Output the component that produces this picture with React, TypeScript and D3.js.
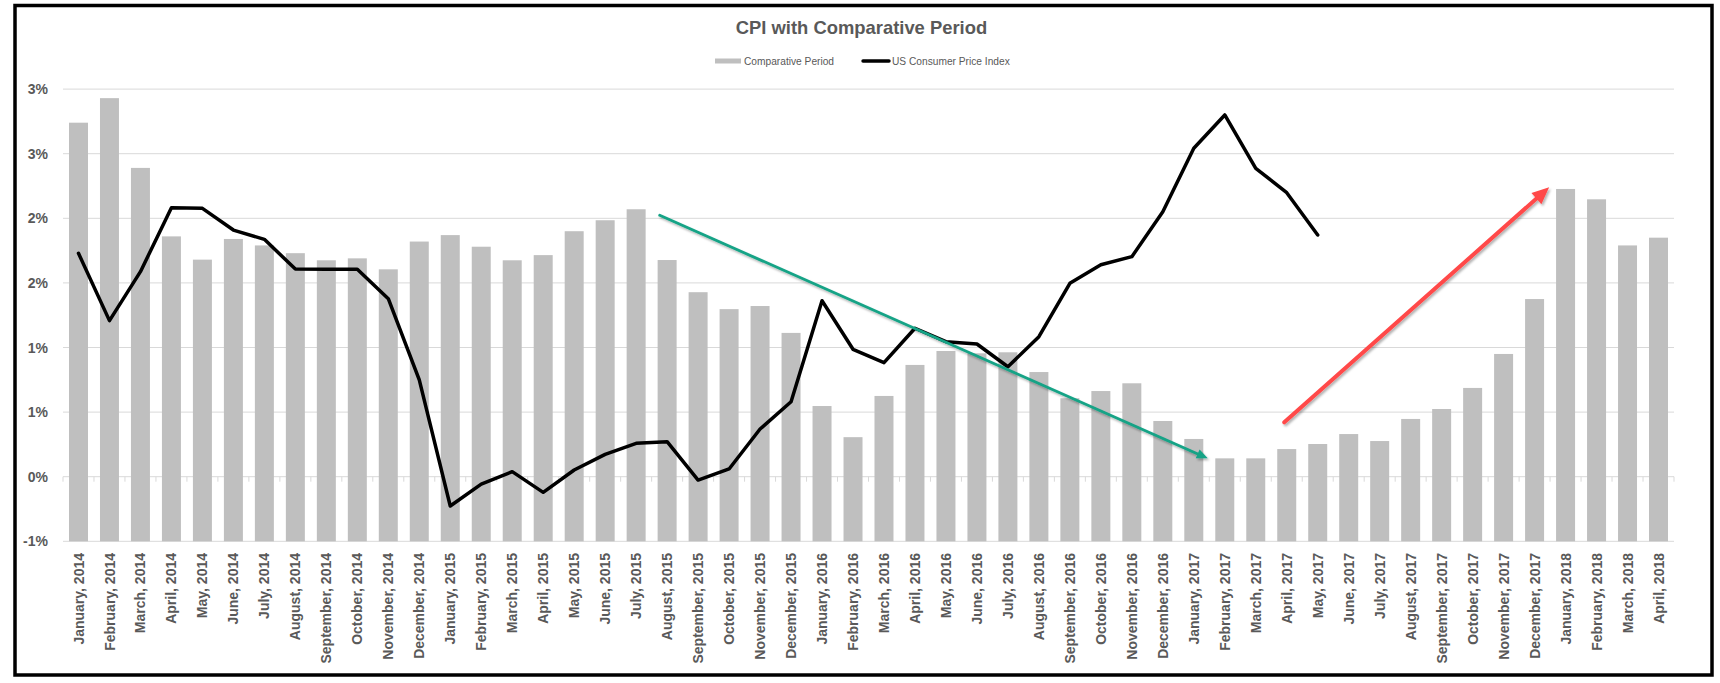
import React, { useEffect, useRef } from 'react';
import * as d3 from 'd3';

const categories = [
  'January, 2014', 'February, 2014', 'March, 2014', 'April, 2014', 'May, 2014', 'June, 2014',
  'July, 2014', 'August, 2014', 'September, 2014', 'October, 2014', 'November, 2014', 'December, 2014',
  'January, 2015', 'February, 2015', 'March, 2015', 'April, 2015', 'May, 2015', 'June, 2015',
  'July, 2015', 'August, 2015', 'September, 2015', 'October, 2015', 'November, 2015', 'December, 2015',
  'January, 2016', 'February, 2016', 'March, 2016', 'April, 2016', 'May, 2016', 'June, 2016',
  'July, 2016', 'August, 2016', 'September, 2016', 'October, 2016', 'November, 2016', 'December, 2016',
  'January, 2017', 'February, 2017', 'March, 2017', 'April, 2017', 'May, 2017', 'June, 2017',
  'July, 2017', 'August, 2017', 'September, 2017', 'October, 2017', 'November, 2017', 'December, 2017',
  'January, 2018', 'February, 2018', 'March, 2018', 'April, 2018',
];

// values in percent
const comparativePeriod = [
  2.74, 2.93, 2.39, 1.86, 1.68, 1.84, 1.79, 1.73, 1.675, 1.69, 1.605, 1.82,
  1.87, 1.78, 1.675, 1.715, 1.9, 1.985, 2.07, 1.677, 1.428, 1.297, 1.321, 1.113,
  0.547, 0.306, 0.625, 0.865, 0.973, 0.955, 0.963, 0.81, 0.607, 0.663, 0.723, 0.431,
  0.292, 0.142, 0.142, 0.214, 0.253, 0.33, 0.276, 0.447, 0.524, 0.687, 0.95, 1.375,
  2.227, 2.147, 1.79, 1.85,
];

const usCpi: (number | null)[] = [
  1.729, 1.208, 1.587, 2.082, 2.077, 1.909, 1.837, 1.607, 1.605, 1.605, 1.378, 0.749,
  -0.227, -0.057, 0.039, -0.121, 0.052, 0.173, 0.258, 0.271, -0.026, 0.06, 0.369, 0.58,
  1.362, 0.986, 0.883, 1.149, 1.045, 1.027, 0.851, 1.084, 1.497, 1.64, 1.703, 2.051,
  2.542, 2.8, 2.387, 2.198, 1.871, null, null, null, null, null, null, null,
  null, null, null, null,
];

const yTicks = [-0.5, 0, 0.5, 1, 1.5, 2, 2.5, 3];
const yTickLabels = ['-1%', '0%', '1%', '1%', '2%', '2%', '3%', '3%'];

// hand-drawn trend arrows, in [category position, value %]
const trendArrows = [
  { from: [18.76, 2.023], to: [36.45, 0.142], color: '#14a386', width: 2.8, headLen: 11, headHalf: 4.8 },
  { from: [38.92, 0.421], to: [47.47, 2.24], color: '#ff4848', width: 4, headLen: 17, headHalf: 7.5 },
];

const WIDTH = 1720;
const HEIGHT = 683;
const FONT = "'Liberation Sans', Arial, sans-serif";
const TEXT_GREY = '#595959';

const App: React.FC = () => {
  const svgRef = useRef<SVGSVGElement | null>(null);

  useEffect(() => {
    document.body.style.margin = '0';
    if (!svgRef.current) return;
    const svg = d3.select(svgRef.current);
    svg.selectAll('*').remove();

    const plot = { left: 63, right: 1674, top: 89.1, bottom: 541.3 };

    const x = d3
      .scaleBand<string>()
      .domain(categories)
      .range([plot.left, plot.right])
      .paddingInner(0.387)
      .paddingOuter(0.1935);

    const y = d3.scaleLinear().domain([-0.5, 3]).range([plot.bottom, plot.top]);

    const center = (i: number) => x(categories[i])! + x.bandwidth() / 2;
    const pos = d3
      .scaleLinear()
      .domain([0, categories.length - 1])
      .range([center(0), center(categories.length - 1)]);

    const defs = svg.append('defs');
    const shadow = defs.append('filter').attr('id', 'shadow').attr('x', '-10%').attr('y', '-10%').attr('width', '130%').attr('height', '130%');
    shadow
      .append('feDropShadow')
      .attr('dx', 1.5)
      .attr('dy', 2)
      .attr('stdDeviation', 1.3)
      .attr('flood-color', '#000')
      .attr('flood-opacity', 0.3);

    // gridlines
    svg
      .append('g')
      .selectAll('line')
      .data(yTicks)
      .enter()
      .append('line')
      .attr('x1', plot.left)
      .attr('x2', plot.right)
      .attr('y1', d => y(d))
      .attr('y2', d => y(d))
      .attr('stroke', '#d9d9d9')
      .attr('stroke-width', 1);

    // category tick marks on the zero line
    svg
      .append('g')
      .selectAll('line')
      .data(d3.range(categories.length + 1))
      .enter()
      .append('line')
      .attr('x1', i => plot.left + i * x.step())
      .attr('x2', i => plot.left + i * x.step())
      .attr('y1', y(0))
      .attr('y2', y(0) + 5)
      .attr('stroke', '#d9d9d9')
      .attr('stroke-width', 1);

    // bars
    svg
      .append('g')
      .selectAll('rect')
      .data(comparativePeriod)
      .enter()
      .append('rect')
      .attr('x', (d, i) => x(categories[i])!)
      .attr('width', x.bandwidth())
      .attr('y', d => y(d))
      .attr('height', d => y(-0.5) - y(d))
      .attr('fill', '#bfbfbf');

    // CPI line
    const line = d3
      .line<number | null>()
      .defined(d => d !== null)
      .x((d, i) => center(i))
      .y(d => y(d as number));

    svg
      .append('path')
      .datum(usCpi)
      .attr('d', line)
      .attr('fill', 'none')
      .attr('stroke', '#000')
      .attr('stroke-width', 3.5)
      .attr('stroke-linejoin', 'round')
      .attr('stroke-linecap', 'round');

    // y axis labels
    svg
      .append('g')
      .selectAll('text')
      .data(yTicks)
      .enter()
      .append('text')
      .attr('x', 48)
      .attr('y', d => y(d))
      .attr('dy', '0.36em')
      .attr('text-anchor', 'end')
      .attr('font-family', FONT)
      .attr('font-size', 14)
      .attr('font-weight', 'bold')
      .attr('fill', TEXT_GREY)
      .text((d, i) => yTickLabels[i]);

    // x axis labels
    svg
      .append('g')
      .selectAll('text')
      .data(categories)
      .enter()
      .append('text')
      .attr('transform', d => `translate(${x(d)! + x.bandwidth() / 2},553) rotate(-90)`)
      .attr('dy', '0.36em')
      .attr('text-anchor', 'end')
      .attr('font-family', FONT)
      .attr('font-size', 14)
      .attr('font-weight', 'bold')
      .attr('fill', TEXT_GREY)
      .text(d => d);

    // trend arrows
    const arrows = svg.append('g').attr('filter', 'url(#shadow)');
    trendArrows.forEach(a => {
      const x1 = pos(a.from[0]);
      const y1 = y(a.from[1]);
      const x2 = pos(a.to[0]);
      const y2 = y(a.to[1]);
      const len = Math.hypot(x2 - x1, y2 - y1);
      const ux = (x2 - x1) / len;
      const uy = (y2 - y1) / len;
      const bx = x2 - ux * a.headLen;
      const by = y2 - uy * a.headLen;
      arrows
        .append('line')
        .attr('x1', x1)
        .attr('y1', y1)
        .attr('x2', bx + ux * 2)
        .attr('y2', by + uy * 2)
        .attr('stroke', a.color)
        .attr('stroke-width', a.width)
        .attr('stroke-linecap', 'round');
      arrows
        .append('path')
        .attr(
          'd',
          `M${x2},${y2}L${bx - uy * a.headHalf},${by + ux * a.headHalf}L${bx + uy * a.headHalf},${by - ux * a.headHalf}Z`
        )
        .attr('fill', a.color);
    });

    // title
    svg
      .append('text')
      .attr('x', 861.5)
      .attr('y', 34)
      .attr('text-anchor', 'middle')
      .attr('font-family', FONT)
      .attr('font-size', 18.4)
      .attr('font-weight', 'bold')
      .attr('fill', TEXT_GREY)
      .text('CPI with Comparative Period');

    // legend
    const legend = svg.append('g').attr('font-family', FONT).attr('font-size', 10.2).attr('fill', TEXT_GREY);
    legend.append('rect').attr('x', 715).attr('y', 58.5).attr('width', 26).attr('height', 5).attr('fill', '#bfbfbf');
    legend.append('text').attr('x', 744).attr('y', 61).attr('dy', '0.36em').text('Comparative Period');
    legend
      .append('line')
      .attr('x1', 863)
      .attr('x2', 889)
      .attr('y1', 61)
      .attr('y2', 61)
      .attr('stroke', '#000')
      .attr('stroke-width', 3.4)
      .attr('stroke-linecap', 'round');
    legend.append('text').attr('x', 892).attr('y', 61).attr('dy', '0.36em').text('US Consumer Price Index');

    // outer frame
    svg
      .append('rect')
      .attr('x', 15)
      .attr('y', 5.5)
      .attr('width', 1697)
      .attr('height', 669.5)
      .attr('fill', 'none')
      .attr('stroke', '#000')
      .attr('stroke-width', 3.5);
  }, []);

  return <svg ref={svgRef} width={WIDTH} height={HEIGHT} style={{ display: 'block', background: '#fff' }} />;
};

export default App;
